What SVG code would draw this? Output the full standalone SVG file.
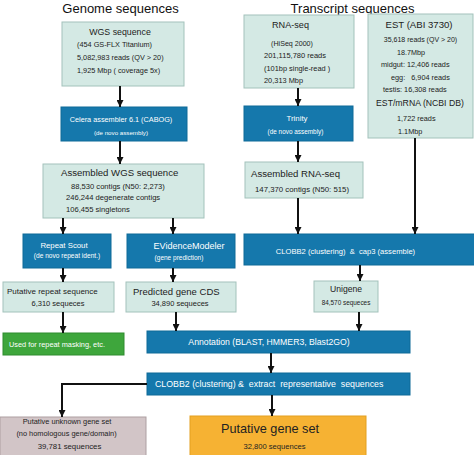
<svg xmlns="http://www.w3.org/2000/svg" width="474" height="455" viewBox="0 0 474 455">
<defs>
<marker id="ah" viewBox="0 0 10 10" refX="10" refY="5" markerWidth="7" markerHeight="7" markerUnits="userSpaceOnUse" orient="auto">
<path d="M0,0 L10,5 L0,10 z" fill="#111"/>
</marker>
<style>
text{font-family:"Liberation Sans",Arial,sans-serif;fill:#222}
.lt{fill:#d4e9e4;stroke:#a3c2bb;stroke-width:1}
.bl{fill:#1578ac;stroke:#0f6a98;stroke-width:1}
.gr{fill:#3ea63c;stroke:#2f8c2e;stroke-width:1}
.or{fill:#f6b233;stroke:#e3a021;stroke-width:1}
.mv{fill:#d2c5c7;stroke:#ad9fa2;stroke-width:1}
.w{fill:#fff}
.c{text-anchor:middle}
.ttl{font-size:13px;fill:#111}
#connectors path{fill:none;stroke:#111;stroke-width:2;marker-end:url(#ah)}
</style>
</defs>
<rect width="474" height="455" fill="#fff"/>
<text class="ttl c" x="120.5" y="13">Genome sequences</text>
<text class="ttl c" x="352.5" y="13">Transcript sequences</text>

<g id="wgs">
<rect class="lt" x="62" y="22" width="122" height="64"/>
<text class="c" x="120" y="35" font-size="8.8">WGS sequence</text>
<text x="77" y="46.6" font-size="7.3">(454 GS-FLX Titanium)</text>
<text x="77" y="59.6" font-size="7.3">5,082,983 reads (QV &gt; 20)</text>
<text x="77" y="72.6" font-size="7.3">1,925 Mbp ( coverage 5x)</text>
</g>
<g id="celera">
<rect class="bl" x="61" y="107" width="126" height="34"/>
<text class="c w" x="121" y="121.5" font-size="7.3">Celera assembler 6.1 (CABOG)</text>
<text class="c w" x="121" y="135" font-size="6.2">(de novo assembly)</text>
</g>
<g id="assembled-wgs">
<rect class="lt" x="43" y="164" width="161" height="54"/>
<text x="61" y="175.5" font-size="9.6">Assembled WGS sequence</text>
<text x="71" y="188.7" font-size="7.6">88,530 contigs (N50: 2,273)</text>
<text x="66" y="199.7" font-size="7.6">246,244 degenerate contigs</text>
<text x="66" y="211.7" font-size="7.6">106,455 singletons</text>
</g>
<g id="repeat-scout">
<rect class="bl" x="23" y="234" width="88" height="34"/>
<text class="c w" x="64" y="247.7" font-size="7.8">Repeat Scout</text>
<text class="c w" x="67" y="258.3" font-size="6.6">(de novo repeat ident.)</text>
</g>
<g id="evm">
<rect class="bl" x="127" y="234" width="108" height="34"/>
<text class="c w" x="189" y="249" font-size="9">EVidenceModeler</text>
<text class="c w" x="179" y="260.3" font-size="6.5">(gene prediction)</text>
</g>
<g id="putative-repeat">
<rect class="lt" x="3" y="282" width="111" height="30"/>
<text x="7" y="293.8" font-size="8">Putative repeat sequence</text>
<text class="c" x="58" y="305.6" font-size="7.5">6,310 sequeces</text>
</g>
<g id="predicted-cds">
<rect class="lt" x="126" y="282" width="110" height="30"/>
<text x="133" y="295.3" font-size="9.5">Predicted gene CDS</text>
<text class="c" x="180" y="305.6" font-size="7.5">34,890 sequeces</text>
</g>
<g id="repeat-masking">
<rect class="gr" x="3" y="333" width="121" height="22"/>
<text class="c w" x="57" y="346.6" font-size="7.35">Used for repeat masking, etc.</text>
</g>
<g id="annotation">
<rect class="bl" x="147" y="331" width="263" height="22"/>
<text class="c w" x="269" y="344.6" font-size="8.7">Annotation (BLAST, HMMER3, Blast2GO)</text>
</g>
<g id="extract">
<rect class="bl" x="147" y="373" width="263" height="22"/>
<text class="w" x="155" y="387.2" font-size="8.8" xml:space="preserve">CLOBB2 (clustering) &amp;  extract  representative  sequences</text>
</g>
<g id="unknown-set">
<rect class="mv" x="0" y="417" width="146" height="40"/>
<text class="c" x="67" y="423.8" font-size="7.4">Putative unknown gene set</text>
<text class="c" x="66.5" y="435.8" font-size="7.4">(no homologous gene/domain)</text>
<text class="c" x="69.5" y="448.6" font-size="7.8">39,781 sequences</text>
</g>
<g id="gene-set">
<rect class="or" x="190" y="416" width="176" height="42"/>
<text class="c" x="270" y="432.5" font-size="12.7">Putative gene set</text>
<text class="c" x="274.5" y="448.5" font-size="7.6">32,800 sequences</text>
</g>

<g id="rnaseq">
<rect class="lt" x="244" y="15" width="110" height="73"/>
<text class="c" x="290.5" y="28" font-size="9.1">RNA-seq</text>
<text class="c" x="292" y="45.6" font-size="7.1">(HiSeq 2000)</text>
<text x="264" y="57.7" font-size="7.5">201,115,780 reads</text>
<text x="264" y="70.6" font-size="7.4">(101bp single-read )</text>
<text x="264" y="82.6" font-size="7.4">20,313 Mbp</text>
</g>
<g id="est">
<rect class="lt" x="368" y="14" width="105" height="124"/>
<text class="c" x="419" y="28.4" font-size="9.6">EST (ABI 3730)</text>
<text class="c" x="420.5" y="41.5" font-size="7">35,618 reads (QV &gt; 20)</text>
<text class="c" x="411" y="54.5" font-size="7.2">18.7Mbp</text>
<text x="381" y="66.6" font-size="7.3">midgut: 12,406 reads</text>
<text x="391" y="79.6" font-size="7.3" xml:space="preserve">egg:   6,904 reads</text>
<text x="383" y="91.6" font-size="7.3">testis: 16,308 reads</text>
<text class="c" x="420" y="106" font-size="8.7">EST/mRNA (NCBI DB)</text>
<text x="397" y="120.5" font-size="7.3">1,722 reads</text>
<text x="398" y="133.5" font-size="7.3">1.1Mbp</text>
</g>
<g id="trinity">
<rect class="bl" x="244" y="106" width="109" height="35"/>
<text class="c w" x="297" y="120.7" font-size="7.8">Trinity</text>
<text class="c w" x="295.5" y="134.2" font-size="6.4">(de novo assembly)</text>
</g>
<g id="assembled-rna">
<rect class="lt" x="245" y="162" width="118" height="36"/>
<text x="251" y="177.4" font-size="9.6">Assembled RNA-seq</text>
<text x="255" y="191.7" font-size="7.8">147,370 contigs (N50: 515)</text>
</g>
<g id="clobb2-cap3">
<rect class="bl" x="244" y="234" width="232" height="31"/>
<text class="c w" x="345.5" y="253.7" font-size="7.6" xml:space="preserve">CLOBB2 (clustering)  &amp;  cap3 (assemble)</text>
</g>
<g id="unigene">
<rect class="lt" x="314" y="281" width="64" height="31"/>
<text class="c" x="346" y="292" font-size="8.6">Unigene</text>
<text class="c" x="346" y="305.3" font-size="6.4">84,570 sequeces</text>
</g>

<g id="connectors">
<path d="M120,86 V107"/>
<path d="M120,141 V164"/>
<path d="M63,218 V234"/>
<path d="M173,218 V234"/>
<path d="M63,268 V282"/>
<path d="M173,268 V282"/>
<path d="M63,312 V333"/>
<path d="M176,312 V331"/>
<path d="M298,88 V106"/>
<path d="M298,141 V162"/>
<path d="M298,198 V234"/>
<path d="M415,138 V234"/>
<path d="M360,265 V281"/>
<path d="M359,312 V331"/>
<path d="M271,353 V373"/>
<path d="M272,395 V416"/>
<path d="M147,384 H62 V417"/>
</g>
</svg>
